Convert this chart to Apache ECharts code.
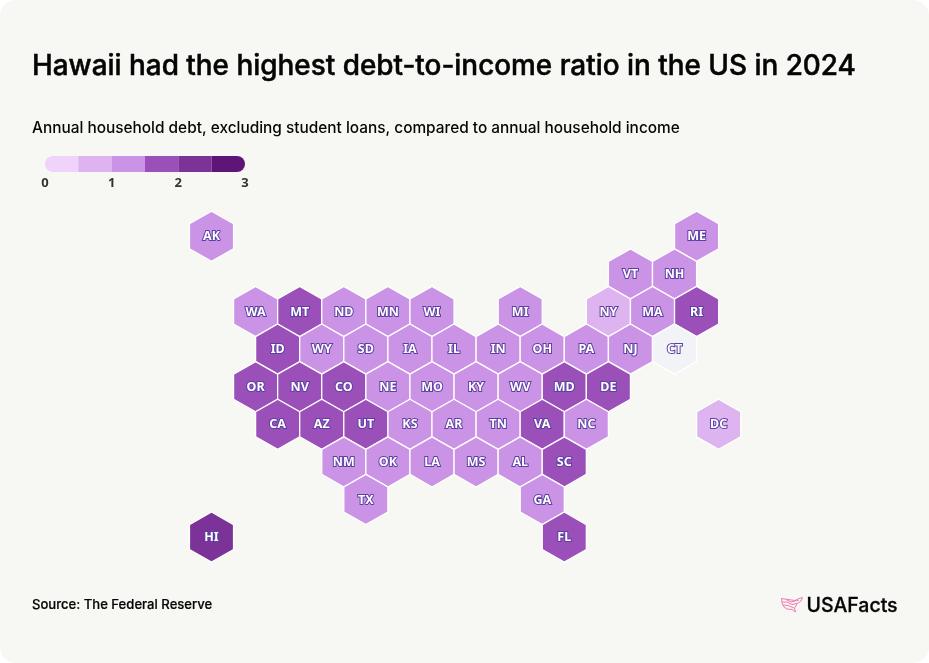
<!DOCTYPE html>
<html>
<head>
<meta charset="utf-8">
<style>
html,body{margin:0;padding:0;background:#ffffff}
#chart{width:929px;height:663px}
</style>
<script src="https://cdn.jsdelivr.net/npm/echarts@6/dist/echarts.min.js"></script>
</head>
<body>
<div id="chart"></div>
<script>
// Debt-to-income ratio per state; CT has no reported value.
const stateCodes = ['AK','ME','VT','NH','WA','MT','ND','MN','WI','MI','NY','MA','RI','ID','WY','SD','IA','IL','IN','OH','PA','NJ','CT','OR','NV','CO','NE','MO','KY','WV','MD','DE','CA','AZ','UT','KS','AR','TN','VA','NC','DC','NM','OK','LA','MS','AL','SC','TX','GA','HI','FL'];
const stateValues = [1.25,1.2,1.25,1.3,1.4,1.6,1.15,1.2,1.05,1.1,0.95,1.15,1.6,1.75,1.35,1.05,1.05,1.05,1.1,1.05,1.05,1.25,null,1.85,1.85,1.9,1.15,1.1,1.1,1.05,1.7,1.55,1.95,1.9,1.95,1.15,1.1,1.25,1.75,1.4,0.85,1.3,1.1,1.2,1.05,1.2,1.6,1.4,1.45,2.2,1.85];
// Tile-grid cell of each state: half-hex column and row.
const tileCols = [0,22,19,21,2,4,6,8,10,14,18,20,22,3,5,7,9,11,13,15,17,19,21,2,4,6,8,10,12,14,16,18,3,5,7,9,11,13,15,17,23,6,8,10,12,14,16,7,15,0,16];
const tileRows = [0,0,1,1,2,2,2,2,2,2,2,2,2,3,3,3,3,3,3,3,3,3,3,4,4,4,4,4,4,4,4,4,5,5,5,5,5,5,5,5,5,6,6,6,6,6,6,7,7,8,8];
// Scale bins and legend ticks.
const binEdges = [0,0.5,1,1.5,2,2.5,3];
const binColors = ['#efd3fb','#ddb4f0','#cb93e5','#9a50b8','#7c3398','#5f1478'];
const scaleTicks = [0,1,2,3];
const noDataColor = '#f2f3f6';

const titleText = 'Hawaii had the highest debt-to-income ratio in the US in 2024';
const subtitleText = 'Annual household debt, excluding student loans, compared to annual household income';
const sourceText = 'Source: The Federal Reserve';
const brandText = 'USAFacts';

function colorFor(v){
  if(v===null) return noDataColor;
  for(let i=0;i<binColors.length;i++){ if(v<binEdges[i+1]) return binColors[i]; }
  return binColors[binColors.length-1];
}

const tileData = stateCodes.map((s,i)=>[tileCols[i],tileRows[i],stateValues[i],s]);
const binData = binColors.map((c,i)=>[binEdges[i],binEdges[i+1]]);
const pink = '#f27ab3';
const ink = '#050505';

const chart = echarts.init(document.getElementById('chart'),null,{renderer:'canvas'});
chart.setOption({
  animation:false,
  backgroundColor:'#ffffff',
  textStyle:{fontFamily:'Inter, sans-serif'},
  title:[
    {text:titleText,left:32,top:53,padding:0,textStyle:{fontFamily:'Inter',fontWeight:500,fontSize:27.9,color:ink,textBorderColor:ink,textBorderWidth:0.5}},
    {text:subtitleText,left:32,top:121,padding:0,textStyle:{fontFamily:'Inter',fontWeight:500,fontSize:15.4,color:ink}},
    {text:sourceText,left:32,top:599,padding:0,textStyle:{fontFamily:'Inter',fontWeight:500,fontSize:13.1,color:ink,textBorderColor:ink,textBorderWidth:0.2}},
    {text:brandText,left:806.5,top:596,padding:0,textStyle:{fontFamily:'Inter',fontWeight:500,fontSize:19.5,color:ink,textBorderColor:ink,textBorderWidth:0.3}}
  ],
  grid:[
    {left:211.5,top:236.3,width:507.15,height:300.8},
    {left:45,top:156,width:200,height:16}
  ],
  xAxis:[
    {type:'value',gridIndex:0,min:0,max:23,show:false},
    {type:'value',gridIndex:1,min:0,max:3,interval:1,
      axisLine:{show:false},axisTick:{show:false},splitLine:{show:false},
      axisLabel:{show:true,margin:5,color:'#333333',fontFamily:'Noto Sans',fontWeight:700,fontSize:13,
        formatter:v=>scaleTicks.includes(v)?String(v):''}}
  ],
  yAxis:[
    {type:'value',gridIndex:0,min:0,max:8,inverse:true,show:false},
    {type:'value',gridIndex:1,min:0,max:1,show:false}
  ],
  series:[
    {
      type:'custom',xAxisIndex:0,yAxisIndex:0,coordinateSystem:'cartesian2d',
      data:tileData,silent:true,encode:{x:0,y:1},
      renderItem(params,api){
        const c=api.coord([api.value(0),api.value(1)]);
        const u=api.size([1,1]);
        const hw=u[0], r=u[1]/1.5;
        const row=tileData[params.dataIndex];
        return {type:'group',children:[
          {type:'polygon',shape:{points:[
            [c[0],c[1]-r],[c[0]+hw,c[1]-r/2],[c[0]+hw,c[1]+r/2],
            [c[0],c[1]+r],[c[0]-hw,c[1]+r/2],[c[0]-hw,c[1]-r/2]]},
            style:{fill:colorFor(row[2]),stroke:'#ffffff',lineWidth:1.3}},
          {type:'text',x:c[0],y:c[1]+0.5,style:{text:row[3],x:0,y:0,align:'center',verticalAlign:'middle',
            fontFamily:'Noto Sans',fontWeight:700,fontSize:12.5,fill:'#ffffff',
            stroke:'#5d3fa3',lineWidth:2},z2:10}
        ]};
      }
    },
    {
      type:'custom',xAxisIndex:1,yAxisIndex:1,coordinateSystem:'cartesian2d',
      data:binData,silent:true,encode:{x:[0,1]},
      renderItem(params,api){
        const a=api.coord([api.value(0),1]);
        const b=api.coord([api.value(1),0]);
        const i=params.dataIndex, n=binColors.length-1;
        const rad=i===0?[8,0,0,8]:i===n?[0,8,8,0]:0;
        return {type:'rect',shape:{x:a[0],y:a[1],width:b[0]-a[0],height:b[1]-a[1],r:rad},
          style:{fill:binColors[i]}};
      }
    }
  ],
  graphic:[
    {type:'rect',z:-10,silent:true,shape:{x:0,y:0,width:929,height:663,r:16},style:{fill:'#f7f7f3'}},
    // Brand mark: striped outline of the US
    {type:'group',x:781,y:597,silent:true,children:[
      {type:'polyline',shape:{points:[[0.5,1.5],[7,2.5],[14,3.5],[18,1.5],[21.5,0.5],[20,4],[16,6.5],[15,9],[13.5,11],[14.5,15],[11,12.5],[6,12],[3,10],[1,6],[0.5,1.5]]},
        style:{fill:'none',stroke:pink,lineWidth:1}},
      {type:'polyline',shape:{points:[[1,5],[6,5],[11,7.5],[16,6.5]]},style:{fill:'none',stroke:pink,lineWidth:1}},
      {type:'polyline',shape:{points:[[2,8],[7,8.5],[13,11]]},style:{fill:'none',stroke:pink,lineWidth:1}},
      {type:'polyline',shape:{points:[[5,2.5],[10,5],[18,3]]},style:{fill:'none',stroke:pink,lineWidth:1}}
    ]}
  ]
});
</script>
</body>
</html>
